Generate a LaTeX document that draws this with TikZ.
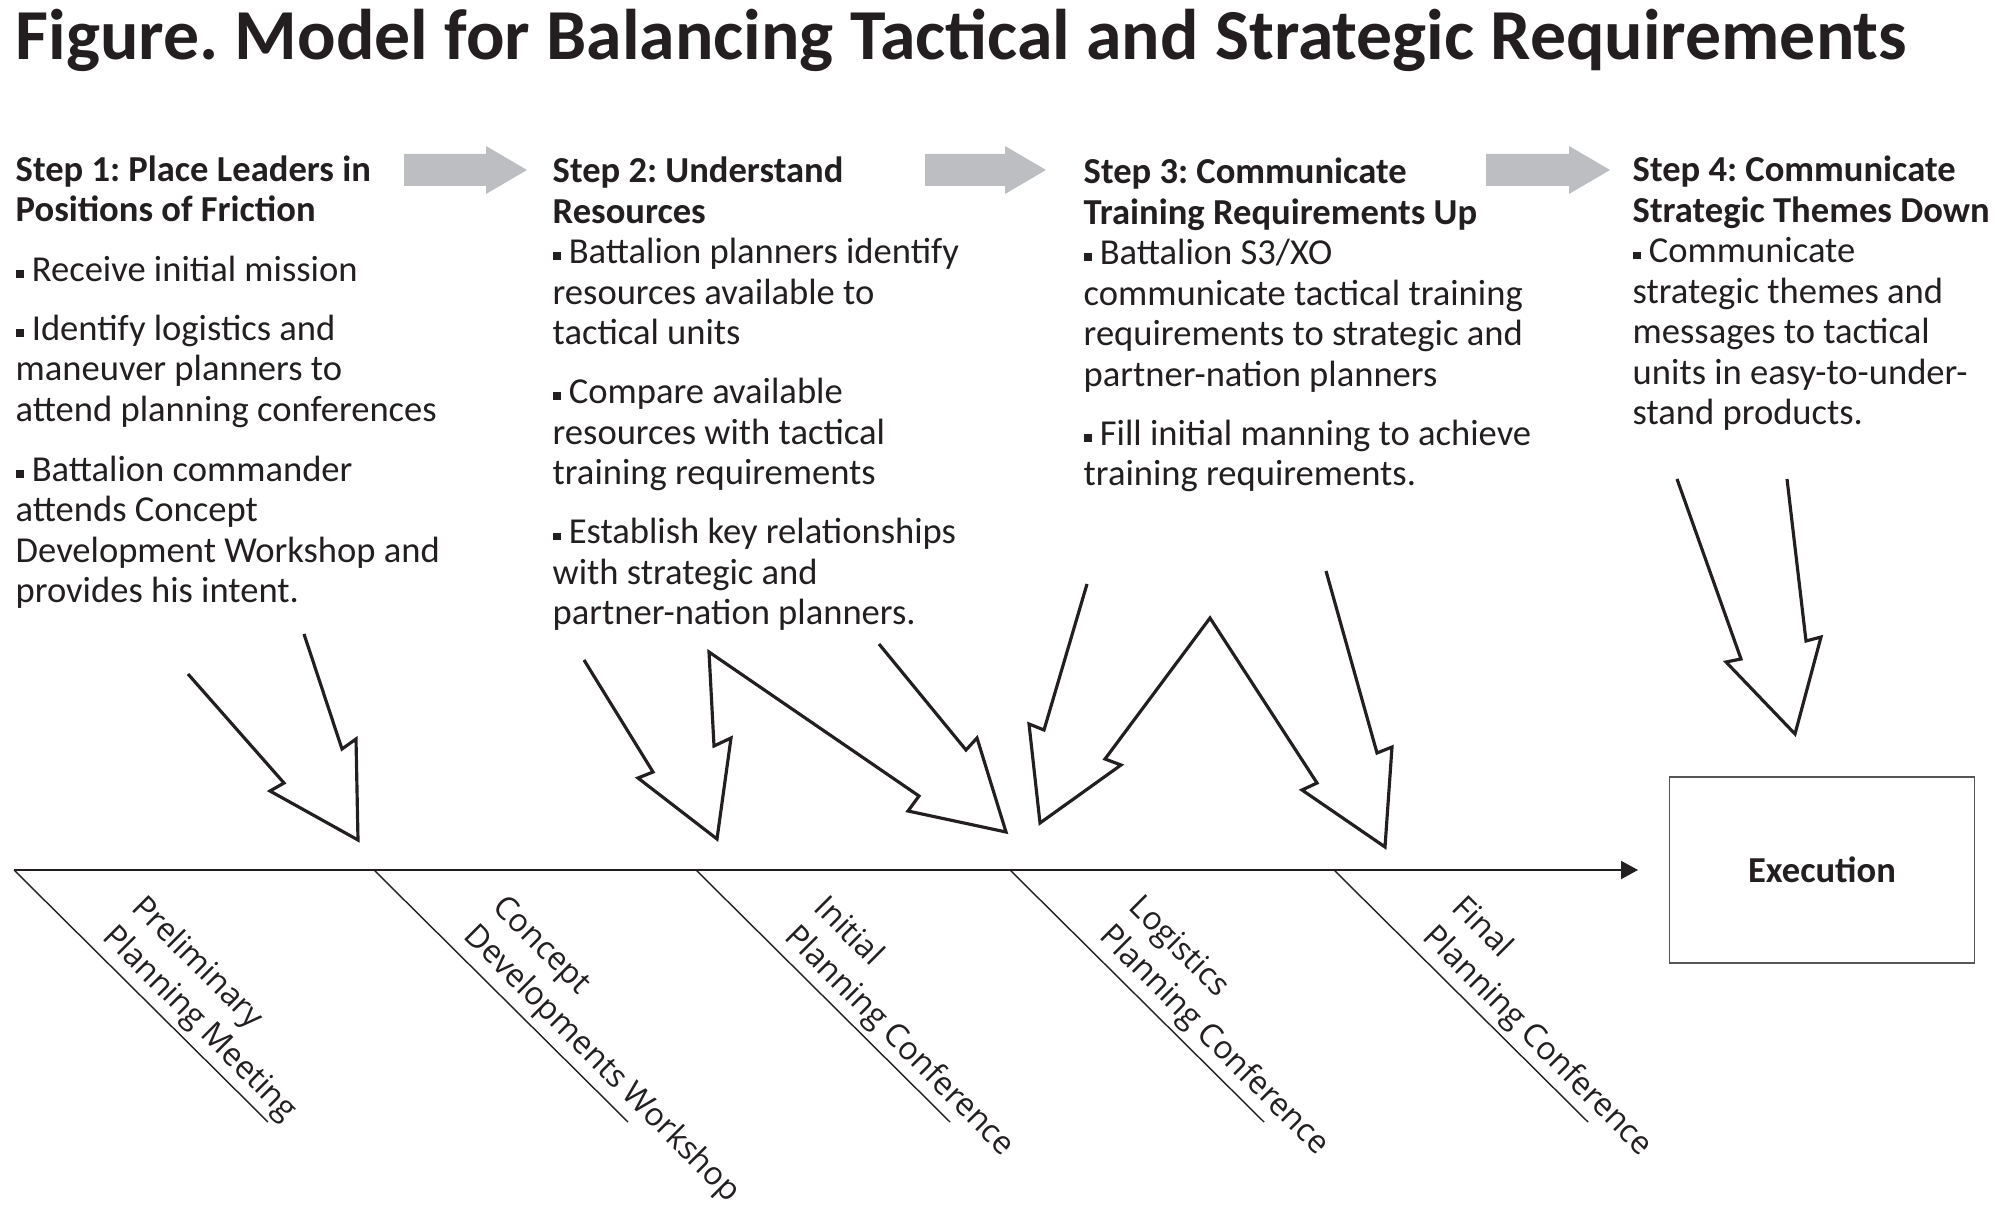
\documentclass[tikz,border=0pt]{standalone}
\usepackage{fontspec}
\setmainfont{Carlito}
\newfontfamily\labelfont{Open Sans}
\definecolor{inkblack}{RGB}{35,31,32}
\definecolor{stepgray}{RGB}{189,190,194}
\definecolor{boxgray}{RGB}{85,85,85}
\usetikzlibrary{positioning,calc,arrows.meta}
\newcommand{\sqb}{\raisebox{0.2ex}{\rule{0.45ex}{0.45ex}}\ }
\frenchspacing

\begin{document}
\begin{tikzpicture}[x=0.01cm, y=-0.01cm,
    steptext/.style={anchor=base west, inner sep=0, align=left, text=inkblack,
        font=\fontsize{10.4}{11.52}\selectfont},
    lbl/.style={rotate=-45, anchor=north west, inner sep=0, align=left, text=inkblack,
        font=\labelfont\fontsize{9.1}{11.7}\selectfont},
    flow/.style={fill=stepgray},
    bigarrow/.style={draw=inkblack, line width=0.9pt, line join=miter},
    tickline/.style={draw=inkblack, line width=0.4pt},
    axisline/.style={draw=inkblack, line width=0.6pt, -{Triangle[length=0.17cm, width=0.18cm]}}]
    \useasboundingbox (0,0) rectangle (2000,1213);

    % Title
    \node[anchor=base west, inner sep=0, text=inkblack, font=\fontsize{20.4}{24}\selectfont\bfseries]
        (title) at (15,60) {Figure. Model for Balancing Tactical and Strategic Requirements};

    % Steps (base = baseline of the last line)
    \node[steptext] (step1) at (15,603) {\textbf{Step 1: Place Leaders in}\\
        \textbf{Positions of Friction}\\[5.3pt]
        \sqb Receive initial mission\\[5.3pt]
        \sqb Identify logistics and\\ maneuver planners to\\ attend planning conferences\\[5.6pt]
        \sqb Battalion commander\\ attends Concept\\ Development Workshop and\\ provides his intent.};
    \node[steptext] (step2) at (552,625) {\textbf{Step 2: Understand}\\
        \textbf{Resources}\\
        \sqb Battalion planners identify\\ resources available to\\ tactical units\\[5.3pt]
        \sqb Compare available\\ resources with tactical\\ training requirements\\[5.3pt]
        \sqb Establish key relationships\\ with strategic and\\ partner-nation planners.};
    \node[steptext] (step3) at (1083,486) {\textbf{Step 3: Communicate}\\
        \textbf{Training Requirements Up}\\
        \sqb Battalion S3/XO\\ communicate tactical training\\ requirements to strategic and\\ partner-nation planners\\[5.3pt]
        \sqb Fill initial manning to achieve\\ training requirements.};
    \node[steptext] (step4) at (1632,425) {\textbf{Step 4: Communicate}\\
        \textbf{Strategic Themes Down}\\
        \sqb Communicate\\ strategic themes and\\ messages to tactical\\ units in easy-to-under-\\ stand products.};

    % Gray arrows between the steps
    \fill[flow] (404,154) -- ++(82,0) -- ++(0,-8) -- ++(41,24) -- ++(-41,24) -- ++(0,-8) -- ++(-82,0) -- cycle;
    \fill[flow] (925,154) -- ++(80,0) -- ++(0,-8) -- ++(41,24) -- ++(-41,24) -- ++(0,-8) -- ++(-80,0) -- cycle;
    \fill[flow] (1486,154) -- ++(83,0) -- ++(0,-8) -- ++(41,24) -- ++(-41,24) -- ++(0,-8) -- ++(-83,0) -- cycle;

    % Hollow arrows
    \draw[bigarrow] (188,674) -- (284,783) -- (270,791) -- (358,840) -- (356,739) -- (342,749) -- (304,634);
    \draw[bigarrow] (584,660) -- (653,772) -- (638,778) -- (717,839) -- (731,738) -- (714,746)
        -- (709,652) -- (919,796) -- (908,811) -- (1006,832) -- (977,738) -- (966,750) -- (879,644);
    \draw[bigarrow] (1087,584) -- (1044,730) -- (1029,724) -- (1040,823) -- (1121,765) -- (1105,759)
        -- (1210,618) -- (1317,783) -- (1302,790) -- (1385,847) -- (1392,747) -- (1377,753) -- (1326,571);
    \draw[bigarrow] (1677,479) -- (1741,659) -- (1726,662) -- (1795,734) -- (1821,637) -- (1806,641) -- (1787,479);

    % Time line
    \coordinate (t1) at (14,870);
    \coordinate (t2) at (374,870);
    \coordinate (t3) at (696,870);
    \coordinate (t4) at (1010,870);
    \coordinate (t5) at (1334,870);
    \coordinate (axend) at (1638,870);
    \draw[axisline] (t1) -- (axend);
    \draw[tickline] (t1) -- ++(254,252);
    \draw[tickline] (t2) -- ++(254,252);
    \draw[tickline] (t3) -- ++(254,252);
    \draw[tickline] (t4) -- ++(254,252);
    \draw[tickline] (t5) -- ++(254,252);

    \node[lbl] (ppm) at ($(t1)+(134,21)$) {Preliminary\\Planning Meeting};
    \node[lbl] (cdw) at ($(t2)+(134,21)$) {Concept\\Developments Workshop};
    \node[lbl] (ipc) at ($(t3)+(134,21)$) {Initial\\Planning Conference};
    \node[lbl] (lpc) at ($(t4)+(134,21)$) {Logistics\\Planning Conference};
    \node[lbl] (fpc) at ($(t5)+(134,21)$) {Final\\Planning Conference};

    % Execution
    \node[draw=boxgray, line width=0.5pt, minimum width=3.05cm, minimum height=1.86cm,
        text=inkblack, font=\fontsize{10.4}{12}\selectfont\bfseries] (exec) at (1822,870) {Execution};
\end{tikzpicture}
\end{document}
